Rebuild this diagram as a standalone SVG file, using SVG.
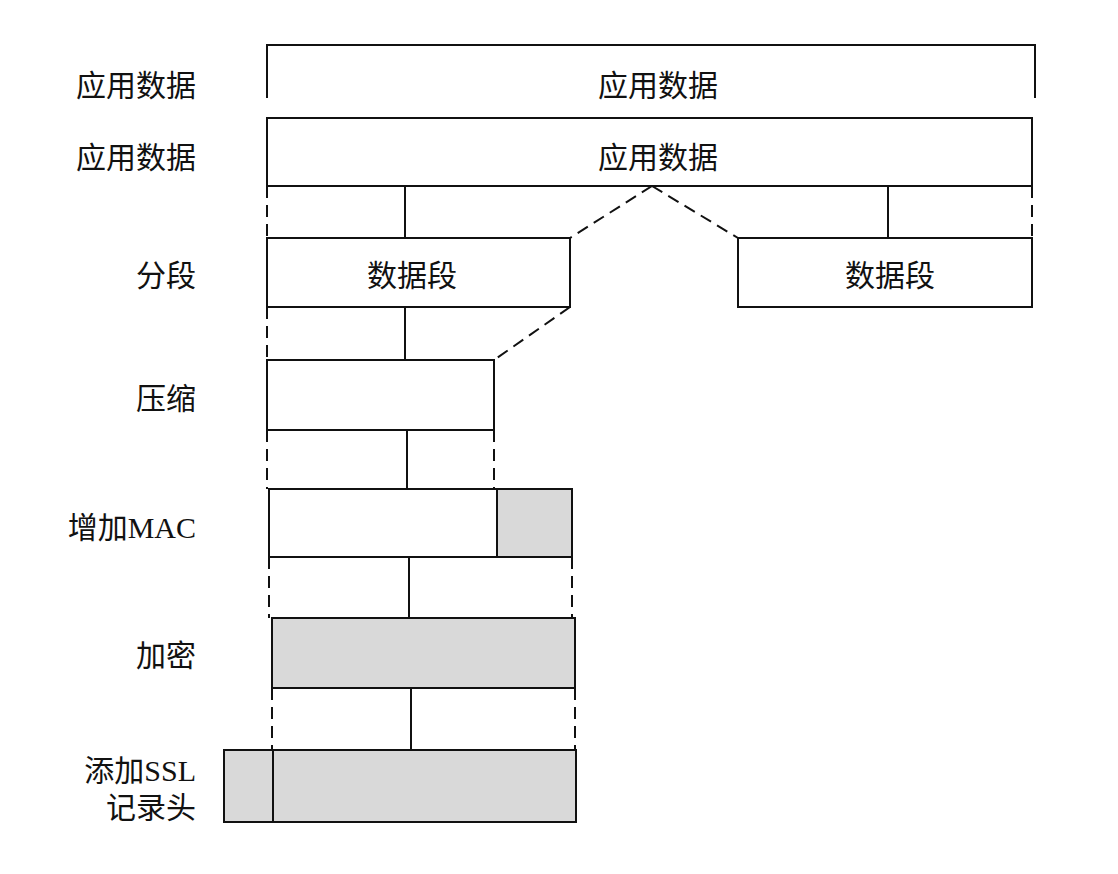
<svg xmlns="http://www.w3.org/2000/svg" width="1118" height="874" viewBox="0 0 1118 874">
<style>
.b{fill:#fff;stroke:#111;stroke-width:2}
.g{fill:#d9d9d9;stroke:#111;stroke-width:2}
.s{stroke:#111;stroke-width:2;fill:none}
.d{stroke:#111;stroke-width:2;fill:none;stroke-dasharray:12 7}
text{font-family:"Liberation Serif","Noto Sans CJK SC",serif;font-size:30px;fill:#111}
.l{text-anchor:end}
.c{text-anchor:middle}
</style>
<rect width="1118" height="874" fill="#fff"/>
<g id="labels">
<text class="l" x="196" y="96">应用数据</text>
<text class="l" x="196" y="168">应用数据</text>
<text class="l" x="196" y="286">分段</text>
<text class="l" x="196" y="409">压缩</text>
<text class="l" x="196" y="538">增加MAC</text>
<text class="l" x="196" y="666">加密</text>
<text class="l" x="196" y="781">添加SSL</text>
<text class="l" x="196" y="818">记录头</text>
</g>
<g id="n1"><path class="s" d="M267 98V45H1035V98"/><text class="c" x="658" y="96">应用数据</text></g>
<g id="n2"><rect class="b" x="267" y="118" width="765" height="68"/><text class="c" x="658" y="168">应用数据</text></g>
<g id="n3a"><rect class="b" x="267" y="238" width="303" height="69"/><text class="c" x="412" y="286">数据段</text></g>
<g id="n3b"><rect class="b" x="738" y="238" width="294" height="69"/><text class="c" x="890" y="286">数据段</text></g>
<g id="n4"><rect class="b" x="267" y="360" width="227" height="70"/></g>
<g id="n5"><rect class="b" x="269" y="489" width="228" height="68"/><rect class="g" x="497" y="489" width="75" height="68"/></g>
<g id="n6"><rect class="g" x="272" y="618" width="303" height="70"/></g>
<g id="n7"><rect class="g" x="224" y="750" width="352" height="72"/><line class="s" x1="273" y1="750" x2="273" y2="822"/></g>
<g id="connectors">
<path class="d" d="M267 186V238M1032 186V238M652 186L570 238M652 186L738 238"/>
<path class="s" d="M405 186V238M888 186V238M405 307V360M407 430V489M409 557V618M411 688V750"/>
<path class="d" d="M267 307V360M570 307L494 360M267 430V489M494 430V489M269 557V618M572 557V618M272 688V750M575 688V750"/>
</g>
</svg>
